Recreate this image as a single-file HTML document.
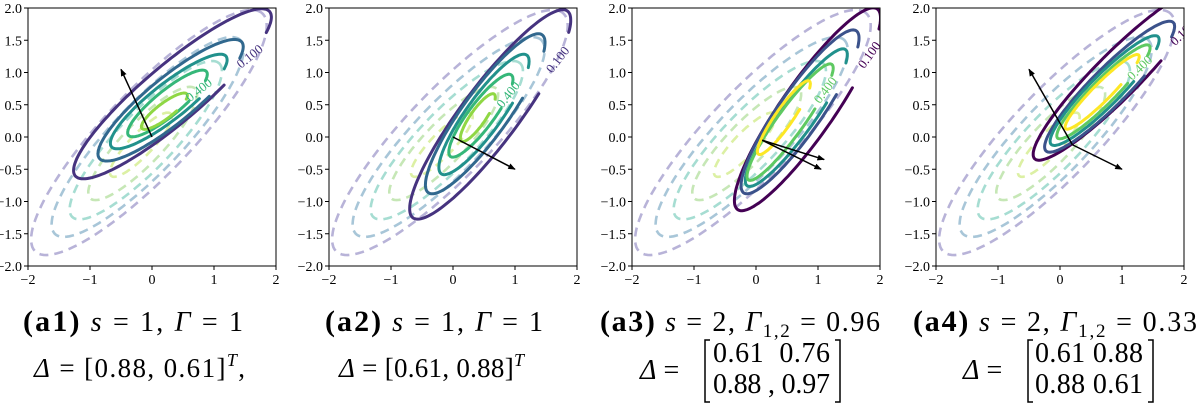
<!DOCTYPE html>
<html><head><meta charset="utf-8"><style>
html,body{margin:0;padding:0;background:#fff;}
svg{display:block;}
text{font-family:"Liberation Serif","DejaVu Serif",serif;}
</style></head><body>
<svg id="fig" width="1200" height="418" viewBox="0 0 1200 418" xmlns="http://www.w3.org/2000/svg" font-family="Liberation Serif, DejaVu Serif, serif">
<defs>
<marker id="ah" viewBox="0 0 10 10" refX="9" refY="5" markerWidth="5" markerHeight="5" orient="auto"><path d="M0,1 L10,5 L0,9 z" fill="#000"/></marker>
</defs>
<g id="plots"></g>
<g id="captions">
<text x="23" y="331" font-size="28" textLength="220" lengthAdjust="spacing"><tspan font-weight="bold" font-size="30">(a1)</tspan> <tspan font-style="italic">s</tspan> = 1, <tspan font-style="italic">Γ</tspan> = 1</text>
<text x="34" y="377" font-size="27" textLength="211" lengthAdjust="spacing"><tspan font-style="italic">Δ</tspan> = [0.88, 0.61]<tspan font-size="18" dy="-11" font-style="italic">T</tspan><tspan dy="11">,</tspan></text>
<text x="325" y="331" font-size="28" textLength="218" lengthAdjust="spacing"><tspan font-weight="bold" font-size="30">(a2)</tspan> <tspan font-style="italic">s</tspan> = 1, <tspan font-style="italic">Γ</tspan> = 1</text>
<text x="339" y="377" font-size="27" textLength="185" lengthAdjust="spacing"><tspan font-style="italic">Δ</tspan> = [0.61, 0.88]<tspan font-size="18" dy="-11" font-style="italic">T</tspan></text>
<text x="600" y="331" font-size="28" textLength="280" lengthAdjust="spacing"><tspan font-weight="bold" font-size="30">(a3)</tspan> <tspan font-style="italic">s</tspan> = 2, <tspan font-style="italic">Γ</tspan><tspan font-size="19" dy="6">1,2</tspan><tspan dy="-6"> = 0.96</tspan></text>
<text x="640" y="379" font-size="28"><tspan font-style="italic">Δ</tspan> =</text>
<path d="M710,340 L705,340 L705,402 L710,402 M835,340 L840,340 L840,402 L835,402" fill="none" stroke="#000" stroke-width="1.5"/>
<text x="713" y="362" font-size="28" textLength="117" lengthAdjust="spacing" xml:space="preserve">0.61  0.76</text>
<text x="713" y="393" font-size="28" textLength="117" lengthAdjust="spacing">0.88 , 0.97</text>
<text x="913" y="331" font-size="28" textLength="284" lengthAdjust="spacing"><tspan font-weight="bold" font-size="30">(a4)</tspan> <tspan font-style="italic">s</tspan> = 2, <tspan font-style="italic">Γ</tspan><tspan font-size="19" dy="6">1,2</tspan><tspan dy="-6"> = 0.33</tspan></text>
<text x="963" y="379" font-size="28"><tspan font-style="italic">Δ</tspan> =</text>
<path d="M1033,340 L1028,340 L1028,402 L1033,402 M1148,340 L1153,340 L1153,402 L1148,402" fill="none" stroke="#000" stroke-width="1.5"/>
<text x="1035" y="362" font-size="28" textLength="108" lengthAdjust="spacing">0.61 0.88</text>
<text x="1035" y="393" font-size="28" textLength="108" lengthAdjust="spacing">0.88 0.61</text>
</g>
</svg>
<script>
// ---- data ----
const xTicks = [-2, -1, 0, 1, 2];
const yTicks = [-2.0, -1.5, -1.0, -0.5, 0.0, 0.5, 1.0, 1.5, 2.0];
const dashedLevels = [0.06, 0.12, 0.18, 0.24, 0.30];
const dashedCx = [-0.05, -0.07, -0.1, -0.15, -0.18];
const dashedCy = [0.07, 0.0, -0.05, -0.1, -0.12];
const dashedA = [2.6, 2.12, 1.68, 1.2, 0.68];
const dashedB = [0.68, 0.55, 0.44, 0.32, 0.18];
const dashedAngle = [45, 45, 45, 45, 45];
const solidLevels = [0.1, 0.2, 0.3, 0.4, 0.5];
const a1Cx = [0.33, 0.30, 0.27, 0.25, 0.20];
const a1Cy = [0.67, 0.57, 0.55, 0.52, 0.40];
const a1A = [2.02, 1.46, 1.16, 0.8, 0.45];
const a1B = [0.45, 0.36, 0.28, 0.2, 0.12];
const a1Ang = [39, 38, 37, 38, 36];
const a2Cx = [0.60, 0.52, 0.50, 0.45, 0.40];
const a2Cy = [0.35, 0.36, 0.35, 0.33, 0.30];
const a2A = [2.03, 1.53, 1.15, 0.8, 0.45];
const a2B = [0.45, 0.36, 0.28, 0.2, 0.12];
const a2Ang = [52, 53, 53, 52, 54];
const a3Cx = [0.83, 0.71, 0.65, 0.55, 0.45];
const a3Cy = [0.43, 0.39, 0.30, 0.23, 0.30];
const a3A = [1.92, 1.55, 1.32, 1.12, 0.7];
const a3B = [0.42, 0.34, 0.27, 0.21, 0.14];
const a3Ang = [54, 54, 53, 53, 54];
const a4Cx = [0.92, 0.80, 0.72, 0.70, 0.68];
const a4Cy = [0.95, 0.78, 0.72, 0.70, 0.70];
const a4A = [1.85, 1.43, 1.2, 1.03, 0.82];
const a4B = [0.35, 0.29, 0.24, 0.19, 0.14];
const a4Ang = [44, 44, 44, 44, 44];
const a1Arrows = [[0, 0, -0.5, 1.05]];
const a2Arrows = [[0, 0, 1.0, -0.5]];
const a3Arrows = [[0.1, -0.05, 1.1, -0.35], [0.1, -0.05, 1.05, -0.5]];
const a4Arrows = [[0.2, -0.12, -0.5, 1.05], [0.2, -0.12, 1.0, -0.5]];

// ---- styling / layout ----
const panelX0 = [28, 329, 632, 936];
const W = 248, TOP = 8, H = 258;
const dashColors = ["#b8b3d8", "#a8c6d8", "#a6ddd2", "#c6e7b6", "#dcf0a4"];
const solidColorsA = ["#46337f", "#31688e", "#21918c", "#35b779", "#8fd744"];
const solidColorsB = ["#440154", "#3b528b", "#21918c", "#5ec962", "#fde725"];
const panels = [
  {id: "a1", cx: a1Cx, cy: a1Cy, a: a1A, b: a1B, ang: a1Ang, col: solidColorsA, arrows: a1Arrows},
  {id: "a2", cx: a2Cx, cy: a2Cy, a: a2A, b: a2B, ang: a2Ang, col: solidColorsA, arrows: a2Arrows},
  {id: "a3", cx: a3Cx, cy: a3Cy, a: a3A, b: a3B, ang: a3Ang, col: solidColorsB, arrows: a3Arrows},
  {id: "a4", cx: a4Cx, cy: a4Cy, a: a4A, b: a4B, ang: a4Ang, col: solidColorsB, arrows: a4Arrows}
];
const NS = "http://www.w3.org/2000/svg";
function mk(tag, attrs, parent) {
  const e = document.createElementNS(NS, tag);
  for (const k in attrs) e.setAttribute(k, attrs[k]);
  parent.appendChild(e);
  return e;
}
function ellPath(X, Y, cx, cy, a, b, angDeg, gap) {
  const th = angDeg * Math.PI / 180;
  let d = "", first = true;
  const start = gap ? -0.5 : 0, end = gap ? 2 * Math.PI - 1.2 : 2 * Math.PI;
  for (let i = 0; i <= 120; i++) {
    const t = start + (end - start) * i / 120;
    const u = a * Math.cos(t), v = b * Math.sin(t);
    const x = cx + u * Math.cos(th) - v * Math.sin(th);
    const y = cy + u * Math.sin(th) + v * Math.cos(th);
    d += (first ? "M" : "L") + X(x).toFixed(1) + "," + Y(y).toFixed(1);
    first = false;
  }
  if (!gap) d += "Z";
  return d;
}
const root = document.getElementById("plots");
panels.forEach((p, pi) => {
  const x0 = panelX0[pi];
  const X = v => x0 + (v + 2) / 4 * W;
  const Y = v => TOP + (2 - v) / 4 * H;
  const g = mk("g", {}, root);
  
  
  const cp = mk("clipPath", {id: "clip" + pi}, g);
  mk("rect", {x: x0, y: TOP, width: W, height: H}, cp);
  const pg = mk("g", {"clip-path": "url(#clip" + pi + ")"}, g);
  dashedLevels.forEach((lv, i) => {
    const e = mk("path", {d: ellPath(X, Y, dashedCx[i], dashedCy[i], dashedA[i], dashedB[i], dashedAngle[i], false),
      fill: "none", stroke: dashColors[i], "stroke-width": 2.6, "stroke-dasharray": "9,6"}, pg);
    
    
  });
  solidLevels.forEach((lv, i) => {
    const e = mk("path", {d: ellPath(X, Y, p.cx[i], p.cy[i], p.a[i], p.b[i], p.ang[i], true),
      fill: "none", stroke: p.col[i], "stroke-width": 3, "stroke-linecap": "round"}, pg);
    
    
  });
  [0, 3].forEach(i => {
    const lv = solidLevels[i];
    const th = p.ang[i] * Math.PI / 180, t = -0.85;
    const u = p.a[i] * Math.cos(t), v = p.b[i] * Math.sin(t);
    const lx = p.cx[i] + u * Math.cos(th) - v * Math.sin(th);
    const ly = p.cy[i] + u * Math.sin(th) + v * Math.cos(th);
    const tx = mk("text", {x: X(lx), y: Y(ly) + 4, "font-size": 13, fill: p.col[i], "text-anchor": "middle",
      transform: "rotate(" + (-p.ang[i]) + " " + X(lx) + " " + Y(ly) + ")"}, pg);
    tx.textContent = lv.toFixed(3);
    
    
  });
  p.arrows.forEach(ar => {
    const e = mk("line", {x1: X(ar[0]), y1: Y(ar[1]), x2: X(ar[2]), y2: Y(ar[3]), stroke: "#000", "stroke-width": 1.5, "marker-end": "url(#ah)"}, pg);
    
    
  });
  const fr = mk("rect", {x: x0, y: TOP, width: W, height: H, fill: "none", stroke: "#000", "stroke-width": 1}, g);
  
  
  xTicks.forEach(v => {
    mk("line", {x1: X(v), y1: TOP + H, x2: X(v), y2: TOP + H + 4, stroke: "#000", "stroke-width": 1}, g);
    const t = mk("text", {x: X(v), y: TOP + H + 18, "font-size": 14, "text-anchor": "middle"}, g);
    t.textContent = v < 0 ? "\u2212" + Math.abs(v) : String(v);
    
    
  });
  yTicks.forEach(v => {
    mk("line", {x1: x0 - 4, y1: Y(v), x2: x0, y2: Y(v), stroke: "#000", "stroke-width": 1}, g);
    const t = mk("text", {x: x0 - 6, y: Y(v) + 5, "font-size": 14, "text-anchor": "end"}, g);
    t.textContent = v < 0 ? "\u2212" + Math.abs(v).toFixed(1) : v.toFixed(1);
    
    
  });
});
</script>
</body></html>
